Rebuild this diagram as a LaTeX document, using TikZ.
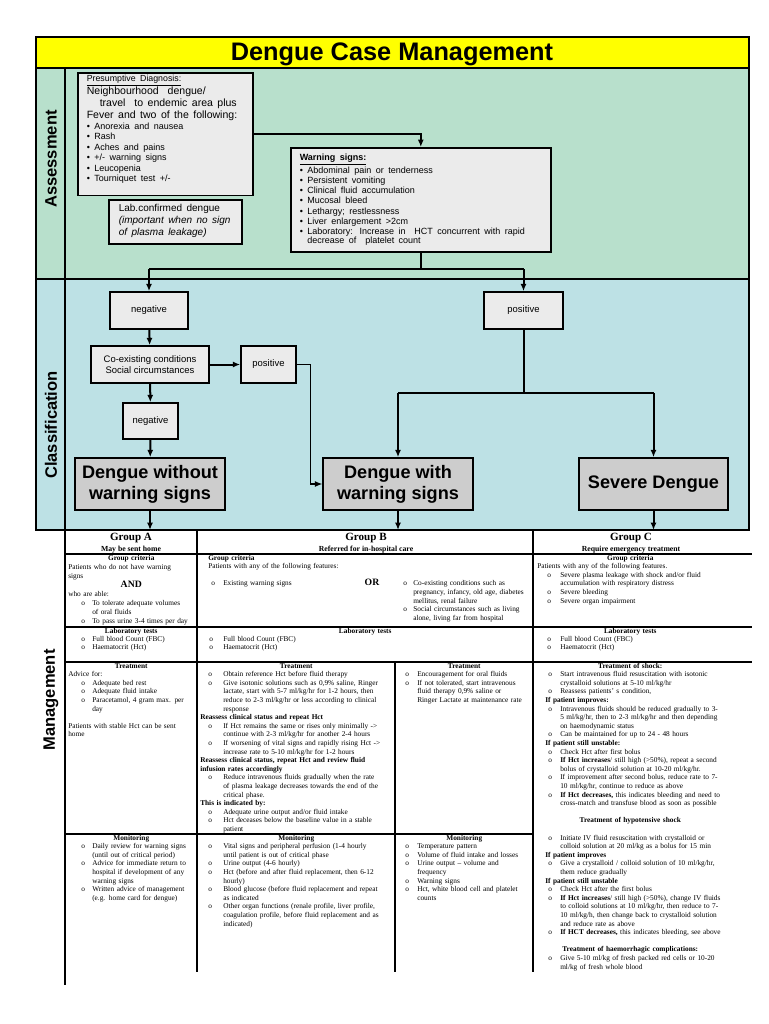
\documentclass[tikz,border=0pt]{standalone}
\usepackage{fontspec}
\setmainfont{Liberation Serif}
\setsansfont{Liberation Sans}
\usetikzlibrary{arrows.meta}

\definecolor{ttlyellow}{RGB}{255,255,0}
\definecolor{assgreen}{RGB}{184,224,204}
\definecolor{clsblue}{RGB}{189,225,229}
\definecolor{boxlight}{RGB}{235,235,235}
\definecolor{boxdark}{RGB}{205,205,205}

% one pixel of the page = 0.75pt
\newlength\pxu \setlength\pxu{0.75pt}
\newlength\plainx \newlength\headx \newlength\bulx \newlength\txtx
\newcommand\cellind[4]{\setlength\plainx{#1\pxu}\setlength\headx{#2\pxu}%
  \setlength\bulx{#3\pxu}\setlength\txtx{#4\pxu}}
\newcommand\pitch[1]{\baselineskip=#1\pxu\relax}
% table lines
\newcommand\tbfont{\fontsize{5.5pt}{6.45pt}\selectfont}
\newcommand\tbhead[1]{\hbox to\hsize{\hss\bfseries #1\hss}}
\newcommand\tbbold[1]{\hbox{\kern\headx\bfseries #1}}
\newcommand\tbline[1]{\hbox{\kern\plainx #1}}
\newcommand\tbbul[1]{\hbox{\kern\bulx\rlap{o}\kern\dimexpr\txtx-\bulx\relax#1}}
\newcommand\tbcont[1]{\hbox{\kern\txtx #1}}
% chart lines
\newcommand\fbig{\fontsize{7.9pt}{9pt}\selectfont}
\newcommand\fsml{\fontsize{6.75pt}{8pt}\selectfont}
\newcommand\fl[2]{\begingroup\baselineskip=#1\pxu\relax\hbox{#2}\endgroup}
\newcommand\fk[1]{\kern#1\pxu\relax}

\tikzset{
  stack/.style={execute at begin node=\vtop\bgroup,execute at end node=\egroup},
  band/.style={draw,line width=1.1pt},
  infobox/.style={stack,draw,line width=1.2pt,fill=boxlight,anchor=north west,
    inner xsep=#1*0.75pt,inner ysep=0pt,font=\sffamily},
  smallbox/.style={draw,line width=1.2pt,fill=boxlight,align=center,inner sep=0pt,
    minimum width=#1*0.75pt,minimum height=37*0.75pt,
    font=\sffamily\fontsize{7.1pt}{8.6pt}\selectfont},
  bigbox/.style={draw,line width=1.2pt,fill=boxdark,align=center,inner sep=0pt,
    minimum width=150*0.75pt,minimum height=52*0.75pt,
    font=\sffamily\bfseries\fontsize{13.6pt}{15.75pt}\selectfont},
  seclabel/.style={rotate=90,font=\sffamily\bfseries\fontsize{12.4pt}{14pt}\selectfont},
  conn/.style={line width=1.5pt},
  thinconn/.style={line width=0.8pt},
  tblline/.style={line width=1.4pt},
  grphead/.style={anchor=base,inner sep=0pt,font=\bfseries\fontsize{8.3pt}{9pt}\selectfont},
  grpsub/.style={anchor=base,inner sep=0pt,font=\bfseries\fontsize{5.8pt}{7pt}\selectfont},
  cell/.style={stack,anchor=base west,inner sep=0pt,text width=#1*0.75pt,font=\tbfont}
}

\begin{document}
\begin{tikzpicture}[x=0.75pt,y=-0.75pt,>={Latex[length=5.5pt,width=4.5pt]}]
\path[use as bounding box,fill=white] (0,0) rectangle (768,1024);

% bands
\draw[band,fill=ttlyellow] (36,37) rectangle (749,68);
\draw[band,fill=assgreen] (36,68) rectangle (749,279);
\draw[band,fill=clsblue] (36,279) rectangle (749,530);
\draw[band] (65,68) -- (65,985);

\node[anchor=base,font=\sffamily\bfseries\fontsize{19pt}{22pt}\selectfont] (title) at (392,61) {Dengue Case Management};
\node[seclabel] (lblass) at (51,159) {Assessment};
\node[seclabel] (lblcls) at (51,425) {Classification};
\node[seclabel] (lblman) at (51,700) {Management};

% assessment
\node[infobox=9,text width=157*0.75pt] (pres) at (77,72) {\fk{2}%
  \fl{12}{\fontsize{6.6pt}{8pt}\selectfont\underline{Presumptive Diagnosis:}}
  \fl{12}{\fbig Neighbourhood~ dengue/}
  \fl{12}{\fbig\kern13\pxu travel~ to endemic area plus}
  \fl{12}{\fbig Fever and two of the following:}
  \fl{10.5}{\fsml • Anorexia and nausea}
  \fl{10.5}{\fsml • Rash}
  \fl{10.5}{\fsml • Aches and pains}
  \fl{10.5}{\fsml • +/- warning signs}
  \fl{10.5}{\fsml • Leucopenia}
  \fl{10.5}{\fsml • Tourniquet test +/-}
  \fk{12}};
\node[infobox=10,text width=113*0.75pt] (lab) at (108,199) {\fk{4.7}%
  \fl{12}{\fontsize{7.5pt}{9pt}\selectfont Lab.confirmed dengue}
  \fl{12}{\fontsize{7.5pt}{9pt}\selectfont\itshape (important when no sign}
  \fl{12}{\fontsize{7.5pt}{9pt}\selectfont\itshape of plasma leakage)}
  \fk{5.9}};
\node[infobox=9,text width=242*0.75pt] (warn) at (290,147) {\fk{6.6}%
  \fl{10}{\fsml\bfseries\underline{Warning signs:}}
  \fl{10}{\fsml • Abdominal pain or tenderness}
  \fl{10}{\fsml • Persistent vomiting}
  \fl{10}{\fsml • Clinical fluid accumulation}
  \fl{10}{\fsml • Mucosal bleed}
  \fl{11}{\fsml • Lethargy; restlessness}
  \fl{10}{\fsml • Liver enlargement >2cm}
  \fl{10}{\fsml • Laboratory: Increase in~ HCT concurrent with rapid}
  \fl{9}{\fsml\phantom{• }decrease of~ platelet count}
  \fk{7}};

% classification
\node[smallbox=78] (neg1) at (149,310.5) {negative};
\node[smallbox=79] (pos1) at (523.5,310.5) {positive};
\node[smallbox=118] (coex) at (150,364.5) {Co-existing conditions\\Social circumstances};
\node[smallbox=55] (pos2) at (268.5,364.5) {positive};
\node[smallbox=55,minimum height=36*0.75pt] (neg2) at (150.5,421) {negative};
\node[bigbox] (dwos) at (150,484) {Dengue without\\warning signs};
\node[bigbox] (dws) at (398,484) {Dengue with\\warning signs};
\node[bigbox,minimum width=149*0.75pt] (sev) at (653.5,484) {Severe Dengue};

\coordinate (fork1) at (warn.south |- 0,269);
\coordinate (fork2) at (pos1.south |- 0,393);
\coordinate (grpA) at (dwos.south |- 0,530);
\coordinate (grpB) at (dws.south |- 0,530);
\coordinate (grpC) at (sev.south |- 0,530);

\draw[conn,->] (pres.east) -| (warn.north);
\draw[conn] (warn.south) -- (fork1);
\draw[conn] (neg1.north |- fork1) -- (pos1.north |- fork1);
\draw[conn] (pos1.south) -- (fork2);
\draw[conn] (dws.north |- fork2) -- (sev.north |- fork2);
\draw[thinconn,->] (pos2.east) -- ++(14,0) |- (dws.west);
\path[conn,->]	(neg1.north |- fork1)	edge	(neg1.north)
		(pos1.north |- fork1)	edge	(pos1.north)
		(neg1)	edge	(coex)
		(coex)	edge	(pos2)
		(coex)	edge	(neg2)
		(neg2)	edge	(dwos)
		(dws.north |- fork2)	edge	(dws.north)
		(sev.north |- fork2)	edge	(sev.north)
		(dwos)	edge	(grpA)
		(dws)	edge	(grpB)
		(sev)	edge	(grpC);

% management table
\draw[tblline] (65,554) -- (752,554) (65,627) -- (752,627) (65,662) -- (752,662) (65,834) -- (533,834);
\draw[tblline] (197,530) -- (197,972) (533,530) -- (533,972) (395,662) -- (395,972);

\node[grphead] (gah) at (131,540) {Group A};
\node[grpsub] (gas) at (131,551) {May be sent home};
\node[grphead] (gbh) at (366,540) {Group B};
\node[grpsub] (gbs) at (366,551) {Referred for in-hospital care};
\node[grphead] (gch) at (631,540) {Group C};
\node[grpsub] (gcs) at (631,551) {Require emergency treatment};

% group criteria
\node[cell=132] (crA) at (65,560) {\cellind{3}{3}{16}{27}\pitch{9}%
  \tbhead{Group criteria}
  \tbline{Patients who do not have warning}
  \tbline{signs}
  \hbox to\hsize{\hss\fontsize{7.3pt}{8pt}\selectfont\bfseries AND\hss}
  \tbline{who are able:}
  \tbbul{To tolerate adequate volumes}
  \tbcont{of oral fluids}
  \tbbul{To pass urine 3-4 times per day}};
\node[cell=336] (crB) at (197,560) {\cellind{11}{11}{14}{26}\pitch{8.6}%
  \tbbold{Group criteria}
  \tbline{Patients with any of the following features:}
  \tbline{}
  \tbbul{Existing warning signs}};
\node[anchor=base,inner sep=0pt,font=\bfseries\fontsize{7.3pt}{8pt}\selectfont] (orB) at (372,585.8) {OR};
\node[cell=138] (crB2) at (395,585.8) {\cellind{0}{0}{8}{18}\pitch{8.6}%
  \tbbul{Co-existing conditions such as}
  \tbcont{pregnancy, infancy, old age, diabetes}
  \tbcont{mellitus, renal failure}
  \tbbul{Social circumstances such as living}
  \tbcont{alone, living far from hospital}};
\node[cell=194] (crC) at (533,560) {\cellind{4}{12}{14}{27}\pitch{8.6}%
  \tbhead{Group criteria}
  \tbline{Patients with any of the following features.}
  \tbbul{Severe plasma leakage with shock and/or fluid}
  \tbcont{accumulation with respiratory distress}
  \tbbul{Severe bleeding}
  \tbbul{Severe organ impairment}};

% laboratory tests
\node[cell=132] (labA) at (65,633) {\cellind{3}{3}{16}{27}\pitch{8}%
  \tbhead{Laboratory tests}
  \tbbul{Full blood Count (FBC)}
  \tbbul{Haematocrit (Hct)}};
\node[cell=336] (labB) at (197,633) {\cellind{3}{3}{12}{26}\pitch{8}%
  \tbhead{Laboratory tests}
  \tbbul{Full blood Count (FBC)}
  \tbbul{Haematocrit (Hct)}};
\node[cell=194] (labC) at (533,633) {\cellind{4}{12}{14}{27}\pitch{8}%
  \tbhead{Laboratory tests}
  \tbbul{Full blood Count (FBC)}
  \tbbul{Haematocrit (Hct)}};

% treatment
\node[cell=132] (trA) at (65,668) {\cellind{3}{3}{16}{27}\pitch{8.6}%
  \tbhead{Treatment}
  \tbline{Advice for:}
  \tbbul{Adequate bed rest}
  \tbbul{Adequate fluid intake}
  \tbbul{Paracetamol, 4 gram max. per}
  \tbcont{day}
  \tbline{}
  \tbline{Patients with stable Hct can be sent}
  \tbline{home}};
\node[cell=198] (trB) at (197,668) {\cellind{3}{3}{11}{26}\pitch{8.6}%
  \tbhead{Treatment}
  \tbbul{Obtain reference Hct before fluid therapy}
  \tbbul{Give isotonic solutions such as 0,9\% saline, Ringer}
  \tbcont{lactate, start with 5-7 ml/kg/hr for 1-2 hours, then}
  \tbcont{reduce to 2-3 ml/kg/hr or less according to clinical}
  \tbcont{response}
  \tbbold{Reassess clinical status and repeat Hct}
  \tbbul{If Hct remains the same or rises only minimally ->}
  \tbcont{continue with 2-3 ml/kg/hr for another 2-4 hours}
  \tbbul{If worsening of vital signs and rapidly rising Hct ->}
  \tbcont{increase rate to 5-10 ml/kg/hr for 1-2 hours}
  \tbbold{Reassess clinical status, repeat Hct and review fluid}
  \tbbold{infusion rates accordingly}
  \tbbul{Reduce intravenous fluids gradually when the rate}
  \tbcont{of plasma leakage decreases towards the end of the}
  \tbcont{critical phase.}
  \tbbold{This is indicated by:}
  \tbbul{Adequate urine output and/or fluid intake}
  \tbbul{Hct deceases below the baseline value in a stable}
  \tbcont{patient}};
\node[cell=138] (trB2) at (395,668) {\cellind{3}{3}{10}{22}\pitch{8.6}%
  \tbhead{Treatment}
  \tbbul{Encouragement for oral fluids}
  \tbbul{If not tolerated, start intravenous}
  \tbcont{fluid therapy 0,9\% saline or}
  \tbcont{Ringer Lactate at maintenance rate}};
\node[cell=194] (trC) at (533,668) {\cellind{4}{12}{15}{27}\pitch{8.6}%
  \tbhead{Treatment of shock:}
  \tbbul{Start intravenous fluid resuscitation with isotonic}
  \tbcont{crystalloid solutions at 5-10 ml/kg/hr}
  \tbbul{Reassess patients’ s condition,}
  \tbbold{If patient improves:}
  \tbbul{Intravenous fluids should be reduced gradually to 3-}
  \tbcont{5 ml/kg/hr, then to 2-3 ml/kg/hr and then depending}
  \tbcont{on haemodynamic status}
  \tbbul{Can be maintained for up to 24 - 48 hours}
  \tbbold{If patient still unstable:}
  \tbbul{Check Hct after first bolus}
  \tbbul{\textbf{If Hct increases}/ still high (>50\%), repeat a second}
  \tbcont{bolus of crystalloid solution at 10-20 ml/kg/hr.}
  \tbbul{If improvement after second bolus, reduce rate to 7-}
  \tbcont{10 ml/kg/hr, continue to reduce as above}
  \tbbul{\textbf{If Hct decreases,} this indicates bleeding and need to}
  \tbcont{cross-match and transfuse blood as soon as possible}
  \tbline{}
  \tbhead{Treatment of hypotensive shock}
  \tbline{}
  \tbbul{Initiate IV fluid resuscitation with crystalloid or}
  \tbcont{colloid solution at 20 ml/kg as a bolus for 15 min}
  \tbbold{If patient improves}
  \tbbul{Give a crystalloid / colloid solution of 10 ml/kg/hr,}
  \tbcont{them reduce gradually}
  \tbbold{If patient still unstable}
  \tbbul{Check Hct after the first bolus}
  \tbbul{\textbf{If Hct increases}/ still high (>50\%), change IV fluids}
  \tbcont{to colloid solutions at 10 ml/kg/hr, then reduce to 7-}
  \tbcont{10 ml/kg/h, then change back to crystalloid solution}
  \tbcont{and reduce rate as above}
  \tbbul{\textbf{If HCT decreases,} this indicates bleeding, see above}
  \tbline{}
  \tbhead{Treatment of haemorrhagic complications:}
  \tbbul{Give 5-10 ml/kg of fresh packed red cells or 10-20}
  \tbcont{ml/kg of fresh whole blood}};

% monitoring
\node[cell=132] (moA) at (65,840) {\cellind{3}{3}{16}{27}\pitch{8.6}%
  \tbhead{Monitoring}
  \tbbul{Daily review for warning signs}
  \tbcont{(until out of critical period)}
  \tbbul{Advice for immediate return to}
  \tbcont{hospital if development of any}
  \tbcont{warning signs}
  \tbbul{Written advice of management}
  \tbcont{(e.g. home card for dengue)}};
\node[cell=198] (moB) at (197,840) {\cellind{3}{3}{11}{26}\pitch{8.6}%
  \tbhead{Monitoring}
  \tbbul{Vital signs and peripheral perfusion (1-4 hourly}
  \tbcont{until patient is out of critical phase}
  \tbbul{Urine output (4-6 hourly)}
  \tbbul{Hct (before and after fluid replacement, then 6-12}
  \tbcont{hourly)}
  \tbbul{Blood glucose (before fluid replacement and repeat}
  \tbcont{as indicated}
  \tbbul{Other organ functions (renale profile, liver profile,}
  \tbcont{coagulation profile, before fluid replacement and as}
  \tbcont{indicated)}};
\node[cell=138] (moB2) at (395,840) {\cellind{3}{3}{10}{22}\pitch{8.6}%
  \tbhead{Monitoring}
  \tbbul{Temperature pattern}
  \tbbul{Volume of fluid intake and losses}
  \tbbul{Urine output – volume and}
  \tbcont{frequency}
  \tbbul{Warning signs}
  \tbbul{Hct, white blood cell and platelet}
  \tbcont{counts}};
\end{tikzpicture}
\end{document}
